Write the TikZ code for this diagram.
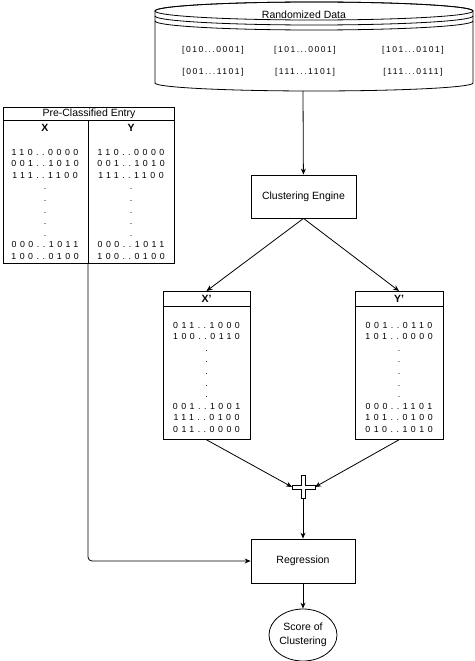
\documentclass[tikz,border=0pt]{standalone}
\usepackage{fontspec}
\setmainfont{Liberation Sans}
\newfontfamily\bitsfont[LetterSpace=40]{Liberation Sans}
\newfontfamily\rowfont[LetterSpace=18]{Liberation Sans}
\usetikzlibrary{arrows.meta,shapes.geometric}

\begin{document}
\begin{tikzpicture}[x=1pt, y=-1pt, line width=0.8pt,
  every node/.style={font=\fontsize{10.5}{12}\selectfont},
  box/.style={draw, rectangle, inner sep=0pt},
  head/.style={font=\bfseries\fontsize{10.5}{12}\selectfont},
  bits/.style={font=\bitsfont\fontsize{8.8}{11.6}\selectfont, align=center, anchor=north, inner sep=0pt},
  datarow/.style={font=\rowfont\fontsize{8.5}{10}\selectfont},
  >={Stealth[length=6pt,width=5pt]}]
  \useasboundingbox (0,0) rectangle (474,661);

  \draw[fill=white] (155,11) -- (155,83) arc[start angle=180, end angle=0, x radius=159, y radius=8]
    -- (473,11) arc[start angle=0, end angle=-180, x radius=159, y radius=9] -- cycle;
  \draw (314,11) ellipse[x radius=159, y radius=9];
  \draw (155,16) arc[start angle=180, end angle=0, x radius=159, y radius=9];
  \draw (155,21) arc[start angle=180, end angle=0, x radius=159, y radius=9];
  \node (dbTitle) at (304,15) {Randomized Data};
  \node[datarow] (d11) at (213,50) {[010...0001]};
  \node[datarow] (d12) at (305,50) {[101...0001]};
  \node[datarow] (d13) at (413,50) {[101...0101]};
  \node[datarow] (d21) at (213,72) {[001...1101]};
  \node[datarow] (d22) at (305,72) {[111...1101]};
  \node[datarow] (d23) at (413,72) {[111...0111]};
  \coordinate (dbOut) at (303,91);

  \node[box, minimum width=105pt, minimum height=43pt] (engine) at (303.5,196.5) {Clustering Engine};
  \draw[->] (dbOut) -- (engine);

  \node[box, minimum width=171pt, minimum height=156pt, anchor=north west] (pre) at (3,107) {};
  \draw ([yshift=-13pt]pre.north west) -- ([yshift=-13pt]pre.north east);
  \node (preTitle) at ([yshift=-6.5pt]pre.north) {Pre-Classified Entry};
  \draw (88,120) -- (88,263);
  \coordinate (preOut) at (88,263);
  \node[head] (preXh) at (45,128) {X};
  \node[head] (preYh) at (131,128) {Y};
  \node[bits] (preX) at (45,148.5) {110..0000\\001..1010\\111..1100\\.\\.\\.\\.\\.\\000..1011\\100..0100};
  \node[bits] (preY) at (131,148.5) {110..0000\\001..1010\\111..1100\\.\\.\\.\\.\\.\\000..1011\\100..0100};

  \node[box, minimum width=87pt, minimum height=148pt, anchor=north] (xp) at (206.5,291) {};
  \draw ([yshift=-15pt]xp.north west) -- ([yshift=-15pt]xp.north east);
  \node[head] (xpTitle) at ([yshift=-7.5pt]xp.north) {X'};
  \node[bits] (xpRows) at (206.5,321.5) {011..1000\\100..0110\\.\\.\\.\\.\\.\\001..1001\\111..0100\\011..0000};

  \node[box, minimum width=88pt, minimum height=148pt, anchor=north] (yp) at (399,291) {};
  \draw ([yshift=-15pt]yp.north west) -- ([yshift=-15pt]yp.north east);
  \node[head] (ypTitle) at ([yshift=-7.5pt]yp.north) {Y'};
  \node[bits] (ypRows) at (399,321.5) {001..0110\\101..0000\\.\\.\\.\\.\\.\\000..1101\\101..0100\\010..1010};

  \draw[->] (engine.south) -- (xp.north);
  \draw[->] (engine.south) -- (yp.north);

  \draw[fill=white] (292,485) -- (301,485) -- (301,475) -- (305,475) -- (305,485) -- (315,485)
    -- (315,489) -- (305,489) -- (305,498) -- (301,498) -- (301,489) -- (292,489) -- cycle;
  \coordinate (crossL) at (292,487);
  \coordinate (crossR) at (315,487);
  \coordinate (crossB) at (303,498);
  \draw[->] (xp.south) -- (crossL);
  \draw[->] (yp.south) -- (crossR);

  \node[box, minimum width=104pt, minimum height=44pt] (reg) at (303,561) {Regression};
  \draw[->] (crossB) -- (reg);
  \draw[->, rounded corners=4pt] (preOut) |- (reg.west);

  \node[draw, ellipse, minimum width=68pt, minimum height=52pt, inner sep=0pt, align=center,
    font=\fontsize{10.5}{14}\selectfont] (score) at (303,635) {Score of\\Clustering};
  \draw[->] (reg) -- (score);
\end{tikzpicture}
\end{document}
